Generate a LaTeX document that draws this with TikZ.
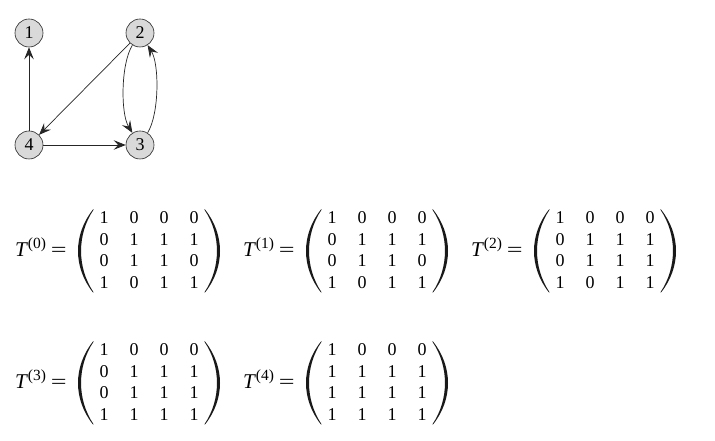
\documentclass[tikz,border=0pt]{standalone}
\usepackage{fontspec}
\usepackage{graphicx}
\setmainfont{Liberation Serif}
\usetikzlibrary{arrows.meta,matrix}
\newcommand\Tlabel[1]{{\fontsize{21}{21}\selectfont\textit{T}}\raisebox{8pt}{\fontsize{15.5}{15.5}\selectfont(#1)}\hspace{5pt}{\fontsize{20}{20}\selectfont\scalebox{1.4}[1.0]{=}}}
\newcommand\tmatblock[5]{%
  \node[tlab, anchor=base west] (#1l) at (#2-1,#3-6.7) {\Tlabel{#4}};
  \matrix (#1) [tmatrix] at (#2+133,#3) {#5};
  \fill[parcol] (#2+77,#3+40.5) .. controls (#2+57,#3+15.5) and (#2+57,#3-17.5) .. (#2+77,#3-42.5)
     -- (#2+77.7,#3-42.5) .. controls (#2+60.8,#3-17.5) and (#2+60.8,#3+15.5) .. (#2+77.7,#3+40.5) -- cycle;
  \fill[parcol] (#2+189,#3+40.5) .. controls (#2+209,#3+15.5) and (#2+209,#3-17.5) .. (#2+189,#3-42.5)
     -- (#2+188.3,#3-42.5) .. controls (#2+205.2,#3-17.5) and (#2+205.2,#3+15.5) .. (#2+188.3,#3+40.5) -- cycle;
}
\tikzset{
  vert/.style={circle, draw=black!85, line width=0.6pt, fill=black!15, minimum size=28pt, inner sep=0pt,
    font=\fontsize{18}{18}\selectfont},
  gedge/.style={draw=black!85, line width=0.7pt, -{Stealth[length=12pt,width=9.5pt,inset=4.5pt,fill=black!85]}},
  tlab/.style={inner sep=0pt, outer sep=0pt},
  tmatrix/.style={matrix of nodes, ampersand replacement=\&, inner sep=0pt, column sep=0pt, row sep=0pt,
    nodes={minimum width=30pt, minimum height=21.5pt, inner sep=0pt, anchor=center,
      font=\fontsize{18}{18}\selectfont}},
  parcol/.style={black!90}
}
\begin{document}
\begin{tikzpicture}[x=1pt,y=1pt]
\fill[white] (0,0) rectangle (715,441);
\useasboundingbox (0,0) rectangle (715,441);
% graph
\node[vert] (n1) at (29,408) {1};
\node[vert] (n2) at (140,408) {2};
\node[vert] (n4) at (29,296) {4};
\node[vert] (n3) at (140,296) {3};
\draw[gedge] (n4) -- (n1);
\draw[gedge] (n2) -- (n4);
\draw[gedge] (n4) -- (n3);
\draw[gedge] (n2) to[bend right=32, looseness=0.65] (n3);
\draw[gedge] (n3) to[bend right=32, looseness=0.65] (n2);
% matrices
\tmatblock{m0}{16}{191}{0}{1 \& 0 \& 0 \& 0 \\ 0 \& 1 \& 1 \& 1 \\ 0 \& 1 \& 1 \& 0 \\ 1 \& 0 \& 1 \& 1 \\}
\tmatblock{m1}{244}{191}{1}{1 \& 0 \& 0 \& 0 \\ 0 \& 1 \& 1 \& 1 \\ 0 \& 1 \& 1 \& 0 \\ 1 \& 0 \& 1 \& 1 \\}
\tmatblock{m2}{472}{191}{2}{1 \& 0 \& 0 \& 0 \\ 0 \& 1 \& 1 \& 1 \\ 0 \& 1 \& 1 \& 1 \\ 1 \& 0 \& 1 \& 1 \\}
\tmatblock{m3}{16}{59}{3}{1 \& 0 \& 0 \& 0 \\ 0 \& 1 \& 1 \& 1 \\ 0 \& 1 \& 1 \& 1 \\ 1 \& 1 \& 1 \& 1 \\}
\tmatblock{m4}{244}{59}{4}{1 \& 0 \& 0 \& 0 \\ 1 \& 1 \& 1 \& 1 \\ 1 \& 1 \& 1 \& 1 \\ 1 \& 1 \& 1 \& 1 \\}
\end{tikzpicture}
\end{document}
